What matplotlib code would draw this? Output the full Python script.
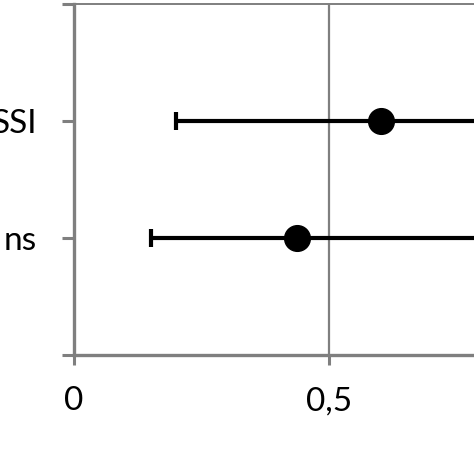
import matplotlib
matplotlib.use("Agg")
import matplotlib.pyplot as plt

# forest plot values (upper limits lie off the cropped picture)
labels = ["ns", "SSI"]
ypos = [1, 2]
estimate = [0.437, 0.602]
lower = [0.151, 0.2]
upper = [1.4, 1.6]
xticks = [0, 0.5]
xticklabels = ["0", "0,5"]

plt.rcParams['font.family'] = ['Lato', 'DejaVu Sans']
grey = "#7f7f7f"

fig = plt.figure(figsize=(4.74, 4.74), dpi=100)
ax = fig.add_axes([74/474, 119/474, 510/474, 351/474])

err_lo = [e - l for e, l in zip(estimate, lower)]
err_hi = [u - e for e, u in zip(estimate, upper)]
ax.errorbar(estimate, ypos, xerr=[err_lo, err_hi], fmt='o', color='black',
            ms=18.5, elinewidth=3.0, capsize=6.5, capthick=3.0, zorder=3)

ax.set_xlim(0, 1)
ax.set_ylim(0, 3)
ax.set_xticks(xticks)
ax.set_xticklabels(xticklabels, fontsize=24)
ax.set_yticks([0, 1, 2, 3])
ax.set_yticklabels([""] + labels + [""], fontsize=24)
ax.tick_params(axis='x', direction='out', length=7.5, width=2.2, color=grey, pad=15)
ax.tick_params(axis='y', direction='out', length=8.5, width=2.2, color=grey, pad=18)

ax.xaxis.grid(True, color=grey, linewidth=1.6)
ax.set_axisbelow(True)
for side in ['left', 'bottom']:
    ax.spines[side].set_color(grey)
    ax.spines[side].set_linewidth(2.4)
ax.spines['top'].set_color(grey)
ax.spines['top'].set_linewidth(1.4)
ax.spines['right'].set_visible(False)

fig.savefig("out.png", dpi=100)
